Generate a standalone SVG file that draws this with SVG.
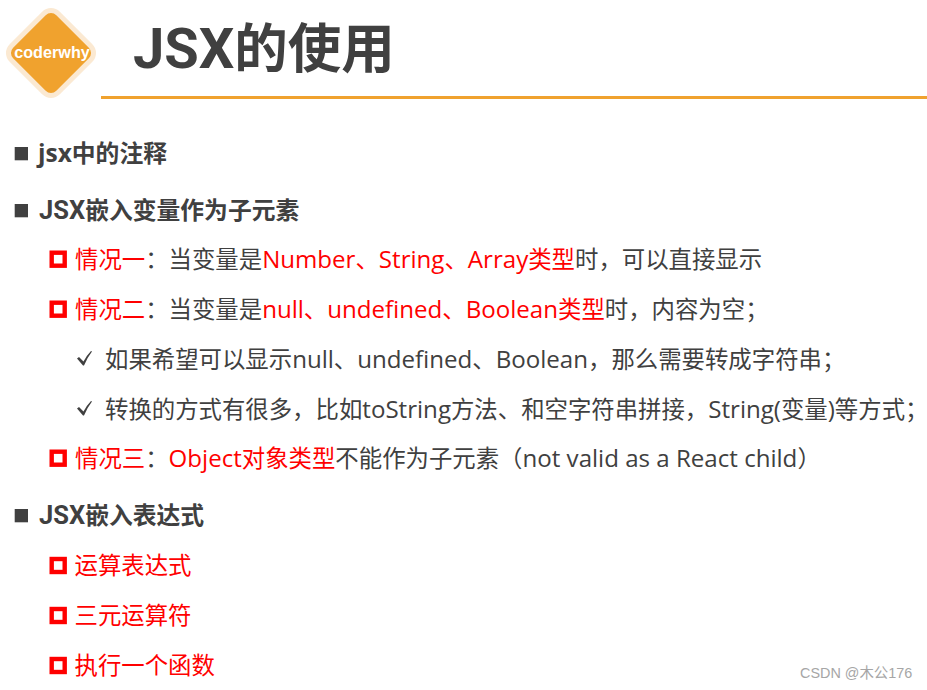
<svg xmlns="http://www.w3.org/2000/svg" width="927" height="690" viewBox="0 0 927 690">
<style>
text{font-family:"Open Sans","Noto Sans CJK SC",sans-serif;fill:#404040}
.h{font-size:23.8px;font-weight:700}
.j{font-family:Roboto,sans-serif;font-size:25.5px}
.b{font-size:23.4px}
.l{font-size:24.1px}
.r{fill:#ff0000}
.sq{fill:#404040}
.box{fill:none;stroke:#ff0000;stroke-width:4.4}
.ck{fill:#404040}
</style>
<rect width="927" height="690" fill="#ffffff"/>
<g id="logo">
<rect x="18" y="18" width="66" height="70" rx="10" transform="rotate(45 51 53)" fill="#f0a22e" stroke="#fbe9d2" stroke-width="5" style="display:none"/>
<rect x="18" y="20" width="66" height="66" rx="10" transform="rotate(45 51 53)" fill="#f0a22e" stroke="#fbe9d2" stroke-width="5"/>
<text x="52" y="57.500" text-anchor="middle" style="font-family:'Liberation Sans',sans-serif;font-size:16.2px;font-weight:700;fill:#ffffff">coderwhy</text>
</g>
<g id="title">
<text x="133" y="68" style="font-size:53.500px;font-weight:700"><tspan style="font-family:Roboto,sans-serif;font-size:56px">JSX</tspan>的使用</text>
<rect x="101" y="96" width="826" height="3" fill="#f0a22e"/>
</g>
<g id="s1"><rect class="sq" x="14.700" y="147" width="13.300" height="13.300"/><text class="h" x="38" y="162"><tspan style="font-size:24.5px">jsx</tspan>中的注释</text></g>
<g id="s2"><rect class="sq" x="14.700" y="204" width="13.300" height="13.300"/><text class="h" x="39" y="219"><tspan class="j">JSX</tspan>嵌入变量作为子元素</text></g>
<g id="a1"><rect class="box" x="51.700" y="252.700" width="13" height="13"/><text class="b" x="75" y="268"><tspan class="r">情况一</tspan>：当变量是<tspan class="r l">Number</tspan><tspan class="r">、</tspan><tspan class="r l">String</tspan><tspan class="r">、</tspan><tspan class="r l">Array</tspan><tspan class="r">类型</tspan>时，可以直接显示</text></g>
<g id="a2"><rect class="box" x="51.700" y="302.700" width="13" height="13"/><text class="b" x="75" y="318"><tspan class="r">情况二</tspan>：当变量是<tspan class="r l">null</tspan><tspan class="r">、</tspan><tspan class="r l">undefined</tspan><tspan class="r">、</tspan><tspan class="r l">Boolean</tspan><tspan class="r">类型</tspan>时，内容为空；</text></g>
<g id="c1"><path class="ck" d="M77 358.500 L79 357 L83.500 361.500 Q87 355 91 351 L92 351.500 Q87 358 84 365.500 L83 365.500 Z"/><text class="b" x="105" y="368">如果希望可以显示<tspan class="l">null</tspan>、<tspan class="l">undefined</tspan>、<tspan class="l">Boolean</tspan>，那么需要转成字符串；</text></g>
<g id="c2"><path class="ck" d="M77 408.500 L79 407 L83.500 411.500 Q87 405 91 401 L92 401.500 Q87 408 84 415.500 L83 415.500 Z"/><text class="b" x="105" y="418">转换的方式有很多，比如<tspan class="l">toString</tspan>方法、和空字符串拼接，<tspan class="l">String(</tspan>变量<tspan class="l">)</tspan>等方式；</text></g>
<g id="a3"><rect class="box" x="51.700" y="451.700" width="13" height="13"/><text class="b" x="75" y="467"><tspan class="r">情况三</tspan>：<tspan class="r l">Object</tspan><tspan class="r">对象类型</tspan>不能作为子元素（<tspan class="l">not valid as a React child</tspan>）</text></g>
<g id="s3"><rect class="sq" x="14.700" y="509" width="13.300" height="13.300"/><text class="h" x="39" y="524"><tspan class="j">JSX</tspan>嵌入表达式</text></g>
<g id="e1"><rect class="box" x="51.700" y="559" width="13" height="13"/><text class="b r" x="74.500" y="574">运算表达式</text></g>
<g id="e2"><rect class="box" x="51.700" y="609" width="13" height="13"/><text class="b r" x="74.500" y="624">三元运算符</text></g>
<g id="e3"><rect class="box" x="51.700" y="659" width="13" height="13"/><text class="b r" x="74.500" y="674">执行一个函数</text></g>
<text x="800" y="678" style="font-size:14.400px;fill:#a6a6a6;font-family:'Liberation Sans','Noto Sans CJK SC',sans-serif">CSDN @木公176</text>
</svg>
